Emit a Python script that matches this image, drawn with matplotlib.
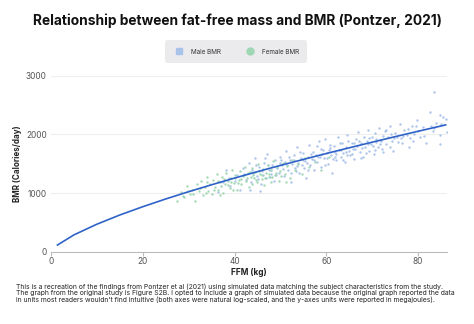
import matplotlib
matplotlib.use("Agg")
import matplotlib.pyplot as plt
from matplotlib.lines import Line2D

# ---------------- data ----------------
male_ffm = [36.5, 38.2, 39.0, 40.5, 41.2, 41.8, 42.5, 43.1, 43.6, 44.0, 44.4, 44.9, 45.3, 45.7, 46.0, 46.4,
            46.8, 47.1, 47.5, 47.9, 48.2, 48.6, 48.9, 49.3, 49.6, 50.0, 50.3, 50.7, 51.0, 51.3, 51.7, 52.0,
            52.3, 52.6, 52.9, 53.2, 53.5, 53.8, 54.1, 54.4, 54.7, 55.0, 55.3, 55.6, 55.9, 56.2, 56.5, 56.8,
            57.1, 57.4, 57.7, 58.0, 58.3, 58.6, 58.9, 59.2, 59.5, 59.8, 60.1, 60.4, 60.7, 61.0, 61.3, 61.6,
            61.9, 62.2, 62.5, 62.8, 63.1, 63.4, 63.7, 64.0, 64.3, 64.6, 64.9, 65.2, 65.5, 65.8, 66.1, 66.4,
            66.7, 67.0, 67.3, 67.6, 67.9, 68.2, 68.5, 68.8, 69.1, 69.4, 69.7, 70.0, 70.3, 70.6, 70.9, 71.2,
            71.5, 71.8, 72.1, 72.4, 72.7, 73.0, 73.4, 73.8, 74.2, 74.6, 75.0, 75.5, 76.0, 76.5, 77.0, 77.5,
            78.0, 78.6, 79.2, 79.8, 80.4, 81.0, 81.8, 82.5, 83.2, 84.0, 84.8, 85.5, 86.0, 86.2, 83.4, 84.7,
            84.7, 45.1, 46.2, 47.3, 48.0, 49.0, 49.8, 50.5, 51.5, 52.2, 53.0, 53.7, 54.3, 55.1, 55.8, 56.6,
            57.3, 58.1, 58.8, 59.6, 60.2, 60.9, 61.5, 62.1, 62.9, 63.6, 64.2, 64.8, 65.6, 66.3, 67.1, 67.8,
            68.6, 69.3, 70.1, 70.8, 71.6, 72.3, 73.1, 73.9, 74.8, 75.7, 76.7, 77.8, 78.9, 80.0, 81.3, 82.8,
            42.0, 43.9, 44.6, 46.6, 47.7, 50.2, 51.9, 53.4, 54.9, 56.0, 57.9, 59.0, 60.6, 61.8, 63.3, 64.5,
            66.0, 67.5, 69.0, 70.5, 72.0, 74.0, 76.2, 78.3, 79.5, 83.5, 85.0, 40.0, 38.8, 37.5, 43.3, 45.5]
male_bmr = [1010, 1390, 1120, 1300, 1050, 1420, 1230, 1510, 1180, 1340, 1600, 1290, 1450, 1150, 1380, 1520,
            1260, 1660, 1400, 1330, 1480, 1210, 1570, 1420, 1350, 1620, 1470, 1290, 1530, 1710, 1400, 1560,
            1180, 1490, 1640, 1430, 1780, 1520, 1350, 1600, 1470, 1690, 1540, 1250, 1620, 1820, 1480, 1580,
            1700, 1390, 1650, 1530, 1880, 1610, 1450, 1730, 1590, 1920, 1680, 1500, 1770, 1640, 1350, 1810,
            1700, 1560, 1950, 1740, 1620, 1850, 1690, 1530, 1790, 1990, 1720, 1640, 1860, 1750, 1580, 1920,
            1800, 2040, 1700, 1850, 1620, 1960, 1780, 1880, 2070, 1720, 1830, 1950, 1660, 2020, 1870, 1790,
            2110, 1910, 1750, 1980, 2060, 1830, 1950, 2150, 1880, 1720, 2030, 1960, 2180, 1850, 2080, 1990,
            1780, 2140, 2000, 2240, 1950, 2120, 1850, 2380, 2060, 2200, 1990, 2300, 2270, 2040, 2720, 1830,
            2335, 1240, 1310, 1480, 1390, 1300, 1510, 1410, 1480, 1350, 1560, 1460, 1700, 1430, 1510, 1660,
            1560, 1620, 1750, 1480, 1600, 1820, 1580, 1660, 1850, 1560, 1700, 1880, 1660, 1750, 1880, 1770,
            1690, 1940, 1800, 1920, 1840, 1700, 2080, 1790, 1930, 1870, 1980, 2090, 1890, 2050, 1980, 2150,
            1330, 1400, 1480, 1590, 1280, 1560, 1620, 1380, 1560, 1400, 1810, 1660, 1730, 1620, 1740, 1640,
            1850, 1600, 1830, 1740, 1880, 2000, 1940, 1930, 2150, 2100, 2170, 1200, 1260, 1190, 1050, 1030]

female_ffm = [27.5, 28.3, 29.0, 29.6, 30.2, 30.8, 31.3, 31.8, 32.2, 32.7, 33.1, 33.5, 33.9, 34.3, 34.7, 35.1,
              35.4, 35.8, 36.1, 36.5, 36.8, 37.2, 37.5, 37.9, 38.2, 38.5, 38.9, 39.2, 39.5, 39.9, 40.2, 40.5,
              40.9, 41.2, 41.5, 41.9, 42.2, 42.5, 42.9, 43.2, 43.5, 43.9, 44.2, 44.5, 44.9, 45.2, 45.5, 45.9,
              46.2, 46.5, 46.9, 47.2, 47.6, 48.0, 48.4, 48.8, 49.2, 49.6, 50.0, 50.5, 51.0, 51.5, 52.0, 52.6,
              53.2, 53.9, 54.6, 55.4, 56.3, 57.5, 58.8, 60.5, 34.0, 35.6, 36.3, 37.0, 37.7, 38.6, 39.3, 40.0,
              40.7, 41.4, 42.0, 42.7, 43.4, 44.0, 44.7, 45.4, 46.0, 46.7, 47.4, 48.2, 49.0, 50.2, 31.0, 32.5,
              29.8, 28.8, 33.8, 36.9, 39.7, 43.7, 47.9, 51.2]
female_bmr = [860, 1010, 930, 1120, 980, 1060, 870, 1150, 1030, 1210, 960, 1100, 1270, 1040, 1160, 990,
              1230, 1110, 1320, 1060, 1190, 1280, 1000, 1150, 1350, 1210, 1080, 1260, 1400, 1170, 1310, 1050,
              1230, 1380, 1150, 1290, 1450, 1200, 1340, 1110, 1270, 1420, 1250, 1360, 1180, 1500, 1320, 1240,
              1410, 1130, 1350, 1470, 1270, 1390, 1540, 1300, 1450, 1200, 1380, 1520, 1330, 1460, 1250, 1570,
              1400, 1490, 1330, 1600, 1450, 1530, 1400, 1620, 1190, 1050, 1200, 1120, 1240, 1130, 1190, 1260,
              1170, 1240, 1300, 1250, 1360, 1300, 1230, 1380, 1300, 1260, 1330, 1280, 1340, 1290, 990, 1080,
              1030, 950, 1000, 960, 1060, 1150, 1180, 1180]

fit_ffm = [1.4, 5, 10, 15, 20, 25, 30, 35, 40, 45, 50, 55, 60, 65, 70, 75, 80, 86]
fit_bmr = [114, 287, 469, 626, 767, 899, 1023, 1141, 1255, 1365, 1471, 1573, 1674, 1771, 1867, 1961, 2053, 2161]

x_ticks = [0, 20, 40, 60, 80]
y_ticks = [0, 1000, 2000, 3000]

title = "Relationship between fat-free mass and BMR (Pontzer, 2021)"
footnote = ("This is a recreation of the findings from Pontzer et al (2021) using simulated data matching the subject characteristics from the study.\n"
            "The graph from the original study is Figure S2B. I opted to include a graph of simulated data because the original graph reported the data\n"
            "in units most readers wouldn't find intuitive (both axes were natural log-scaled, and the y-axes units were reported in megajoules).")

# ---------------- style ----------------
plt.rcParams['font.family'] = ['Inter', 'DejaVu Sans']
male_col = '#a9c2e8'
female_col = '#9fd6b3'
line_col = '#2f62c8'
tick_col = '#555555'

fig = plt.figure(figsize=(4.74, 3.24), dpi=100)
ax = fig.add_axes([0.1076, 0.2231, 0.8355, 0.5433])

ax.scatter(male_ffm, male_bmr, s=3.0, color=male_col, alpha=0.95, linewidths=0, zorder=2)
ax.scatter(female_ffm, female_bmr, s=3.0, color=female_col, alpha=0.95, linewidths=0, zorder=2)
ax.plot(fit_ffm, fit_bmr, color=line_col, lw=1.2, zorder=3)

ax.set_xlim(0, 86.3)
ax.set_ylim(0, 3000)
ax.set_xticks(x_ticks)
ax.set_yticks(y_ticks)
ax.grid(axis='y', color='#eeeeee', lw=0.8, zorder=0)
ax.set_axisbelow(True)
for s in ['top', 'right', 'left']:
    ax.spines[s].set_visible(False)
ax.spines['bottom'].set_color('#bbbbbb')
ax.spines['bottom'].set_linewidth(0.8)
ax.tick_params(axis='y', length=0, labelsize=6, labelcolor=tick_col, pad=3)
ax.tick_params(axis='x', length=3, color='#bbbbbb', labelsize=6, labelcolor=tick_col, pad=0.5)

ax.set_xlabel("FFM (kg)", fontsize=6, fontweight='bold', color='#222222', labelpad=2)
ax.set_ylabel("BMR (Calories/day)", fontsize=5.8, fontweight='bold', color='#222222', labelpad=3)

fig.text(0.5, 1 - 21 / 324, title, ha='center', va='center', fontsize=9.9, fontweight='bold', color='#111111')

handles = [Line2D([], [], marker='s', ls='', color=male_col, markersize=5),
           Line2D([], [], marker='o', ls='', color=female_col, markersize=5)]
leg = fig.legend(handles, ['Male BMR', 'Female BMR'], loc='center', bbox_to_anchor=(236 / 474, 1 - 51.5 / 324),
                 ncol=2, fontsize=4.6, frameon=True, fancybox=True, facecolor='#ebebee', edgecolor='none',
                 framealpha=1, borderpad=1.3, columnspacing=3.6, handletextpad=0.8, borderaxespad=0)
leg.get_frame().set_boxstyle('round', pad=0, rounding_size=0.4)
for t in leg.get_texts():
    t.set_color('#333333')

fig.text(16.5 / 474, 1 - 293.5 / 324, footnote, ha='left', va='center', fontsize=4.9, color='#222222', linespacing=1.08)

fig.savefig('out.png', dpi=100)
